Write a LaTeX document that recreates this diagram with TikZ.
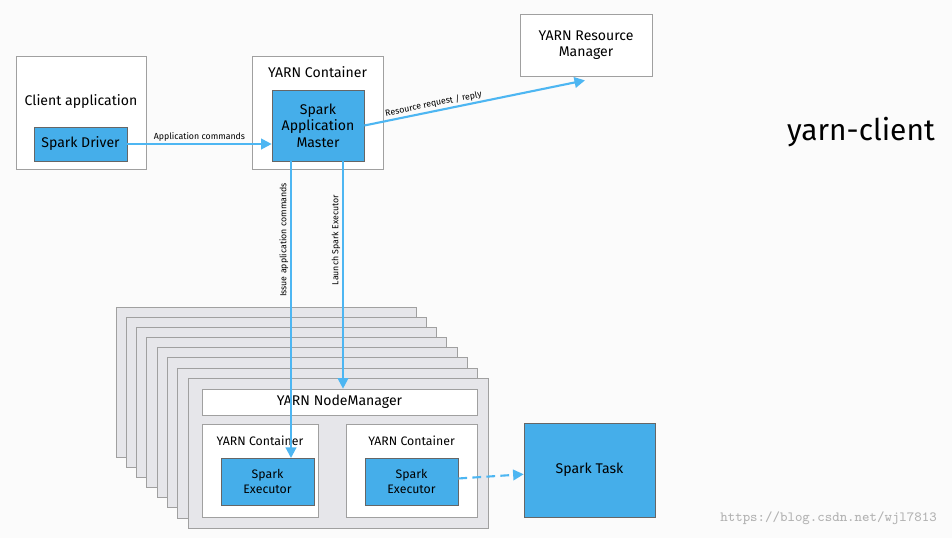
\documentclass[tikz,border=0pt]{standalone}
\usepackage{fontspec}
\setmainfont{Fira Sans}
\usepackage{tikz}
\usetikzlibrary{calc,arrows.meta}
\usepackage{xcolor}
\definecolor{spark_blue}{HTML}{45AEEA}
\definecolor{line_blue}{HTML}{4DB6F2}
\definecolor{page_gray}{HTML}{E6E6EA}
\definecolor{edge_gray}{HTML}{A0A0A0}

\begin{document}
\begin{tikzpicture}[x=0.02cm, y=-0.02cm,
	box/.style={draw=edge_gray, fill=white, inner sep=0pt},
	spark/.style={draw=black!60, fill=spark_blue, inner sep=0pt, align=center, font=\fontsize{8}{9.5}\selectfont},
	link/.style={line_blue, line width=1.2pt, -{Triangle[length=6pt, width=6pt]}},
	tag/.style={font=\fontsize{5}{6}\selectfont, inner sep=1pt}]
	\fill[white!97!gray] (0, 0) rectangle (952, 538);
	\useasboundingbox (0, 0) rectangle (952, 538);
	% client side
	\node[box, minimum width=2.6cm, minimum height=2.26cm] (client) at (81, 112.5) {};
	\node[font=\fontsize{8}{9.5}\selectfont] at (81, 102) {Client application};
	\node[spark, minimum width=1.86cm, minimum height=0.68cm] (driver) at (80.5, 144) {Spark Driver};
	% application master
	\node[box, minimum width=2.62cm, minimum height=2.26cm] (amc) at (317.5, 112.5) {};
	\node[font=\fontsize{8}{9.5}\selectfont] at (317.5, 72) {YARN Container};
	\node[spark, minimum width=1.84cm, minimum height=1.42cm] (am) at (318, 125.5) {Spark\\Application\\Master};
	\node[box, align=center, minimum width=2.64cm, minimum height=1.24cm, font=\fontsize{8}{9.5}\selectfont] (rm) at (586, 45) {YARN Resource\\Manager};
	\node[font=\fontsize{17}{20}\selectfont] at (861, 132) {yarn-client};
	% node managers
	\foreach \i in {7,...,1}
		\draw[edge_gray, fill=page_gray] ($(188, 378) - \i*(10.3, 10.1)$) rectangle ++(300, 150);
	\node[box, fill=page_gray, minimum width=6cm, minimum height=3cm] (nm) at (338, 453) {};
	\node[box, minimum width=5.5cm, minimum height=0.52cm, font=\fontsize{8}{9.5}\selectfont] (nmbar) at (339.5, 402) {YARN NodeManager};
	\node[box, minimum width=2.32cm, minimum height=1.86cm] (c1) at (260, 470.5) {};
	\node[font=\fontsize{7}{8}\selectfont] at (260, 441) {YARN Container};
	\node[spark, minimum width=1.86cm, minimum height=0.94cm, font=\fontsize{7}{8.5}\selectfont] (ex1) at (267.5, 481.5) {Spark\\Executor};
	\node[box, minimum width=2.62cm, minimum height=1.86cm] (c2) at (411.5, 470.5) {};
	\node[font=\fontsize{7}{8}\selectfont] at (411.5, 441) {YARN Container};
	\node[spark, minimum width=1.86cm, minimum height=0.94cm, font=\fontsize{7}{8.5}\selectfont] (ex2) at (411.5, 481.5) {Spark\\Executor};
	\node[spark, minimum width=2.62cm, minimum height=1.88cm] (task) at (589.5, 470) {Spark Task};
	% connectors
	\draw[link] (driver) -- (am.west |- driver) node[midway, above, tag, black] {Application commands};
	\draw[link] (am.east) -- ($(rm.south) + (-1, 4)$) node[pos=0.32, above, sloped, tag, black] {Resource request / reply};
	\draw[link] (am.south -| ex1.north -| 291, 0) -- (291, 458) coordinate (ex1top);
	\node[tag, rotate=90] at (284, 240) {Issue application commands};
	\draw[link] ($(am.south) + (25, 0)$) -- (nmbar.north -| 343, 0);
	\node[tag, rotate=90] at (336, 240) {Launch Spark Executor};
	\draw[link, dashed, dash pattern=on 5pt off 3pt] (ex2) -- (task);
	\node[text=gray!60, font=\ttfamily\fontsize{8}{9}\selectfont, anchor=east] at (943, 518) {https://blog.csdn.net/wjl7813};
\end{tikzpicture}
\end{document}
